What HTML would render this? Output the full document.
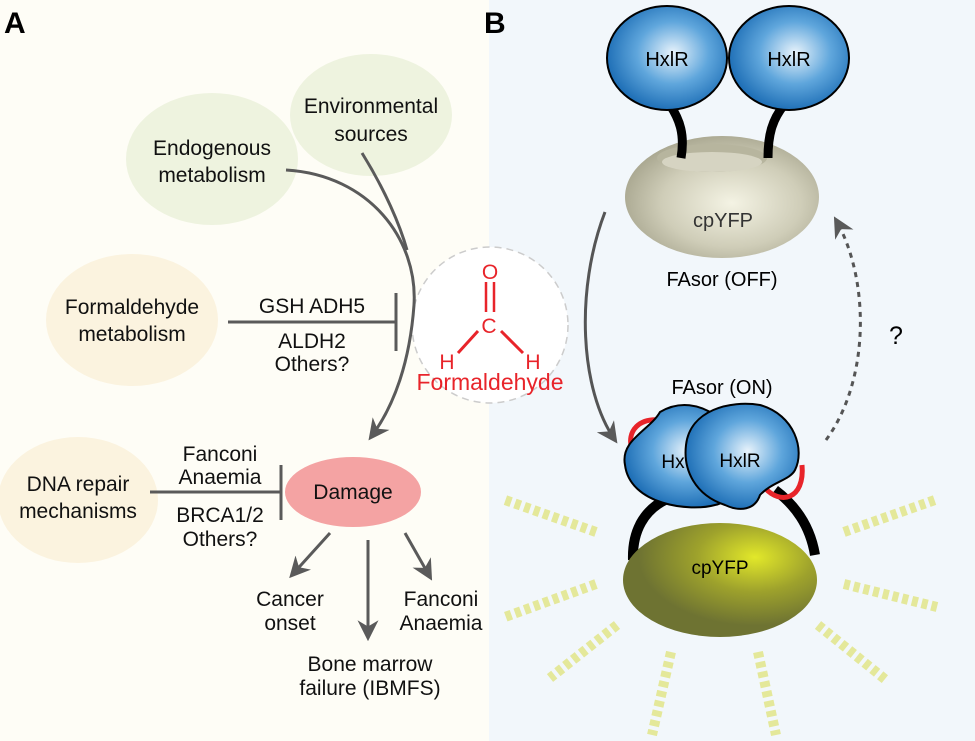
<!DOCTYPE html>
<html><head><meta charset="utf-8"><style>
body{margin:0;}
svg{display:block;font-family:"Liberation Sans",sans-serif;}
</style></head><body>
<svg width="975" height="741" viewBox="0 0 975 741" xmlns="http://www.w3.org/2000/svg">
<defs>
<radialGradient id="blue" cx="0.55" cy="0.45" r="0.6"><stop offset="0" stop-color="#e8f3fb"/><stop offset="0.5" stop-color="#5fa6dc"/><stop offset="1" stop-color="#1466b0"/></radialGradient>
<radialGradient id="grey" cx="0.55" cy="0.55" r="0.6"><stop offset="0" stop-color="#f4f3e4"/><stop offset="0.6" stop-color="#cfcdb8"/><stop offset="1" stop-color="#a5a38c"/></radialGradient>
<radialGradient id="yel" cx="0.68" cy="0.3" r="0.6"><stop offset="0" stop-color="#e2e82a"/><stop offset="0.5" stop-color="#9ea22c"/><stop offset="1" stop-color="#6e7332"/></radialGradient>
<marker id="ah" viewBox="0 0 10 10" refX="8" refY="5" markerWidth="7" markerHeight="7" orient="auto"><path d="M0,0 L10,5 L0,10 L3,5z" fill="#5a5a5a"/></marker>
</defs>
<rect x="0" y="0" width="489" height="741" fill="#fefdf6"/>
<rect x="489" y="0" width="486" height="741" fill="#f2f7fb"/>
<text x="4" y="33" font-size="30" font-weight="bold">A</text>
<text x="484" y="33" font-size="30" font-weight="bold">B</text>
<g font-size="21" text-anchor="middle" fill="#111">
<ellipse cx="212" cy="159" rx="86" ry="66" fill="#eef3df"/>
<ellipse cx="371" cy="115" rx="81" ry="61" fill="#eef3df"/>
<ellipse cx="132" cy="320" rx="86" ry="66" fill="#fbf3df"/>
<ellipse cx="78" cy="500" rx="80" ry="63" fill="#fbf3df"/>
<text x="212" y="155">Endogenous</text><text x="212" y="182">metabolism</text>
<text x="371" y="113">Environmental</text><text x="371" y="141">sources</text>
<text x="132" y="314">Formaldehyde</text><text x="132" y="341">metabolism</text>
<text x="78" y="491">DNA repair</text><text x="78" y="518">mechanisms</text>
<circle cx="490" cy="325" r="78" fill="#fff" stroke="#ccc" stroke-width="1.5" stroke-dasharray="7 5"/>
<path d="M286,170 C370,175 418,240 414,305 C410,360 395,405 371,437" fill="none" stroke="#5a5a5a" stroke-width="3" marker-end="url(#ah)"/>
<path d="M362,153 C385,190 400,225 407,250" fill="none" stroke="#5a5a5a" stroke-width="3"/>
<line x1="228" y1="322" x2="396" y2="322" stroke="#5a5a5a" stroke-width="3"/>
<line x1="396" y1="293" x2="396" y2="351" stroke="#5a5a5a" stroke-width="3"/>
<text x="312" y="313">GSH ADH5</text><text x="312" y="348">ALDH2</text><text x="312" y="371">Others?</text>
<g fill="#e8242a" stroke="#e8242a">
<text x="490" y="279" stroke="none" font-size="21">O</text>
<text x="489" y="333" stroke="none" font-size="21">C</text>
<text x="447" y="369" stroke="none" font-size="21">H</text>
<text x="533" y="369" stroke="none" font-size="21">H</text>
<line x1="486" y1="282" x2="486" y2="312" stroke-width="2.5"/><line x1="494" y1="282" x2="494" y2="312" stroke-width="2.5"/>
<line x1="478" y1="331" x2="458" y2="353" stroke-width="3"/><line x1="501" y1="331" x2="523" y2="353" stroke-width="3"/>
<text x="490" y="390" stroke="none" font-size="23">Formaldehyde</text>
</g>
<ellipse cx="353" cy="492" rx="68" ry="35" fill="#f4a3a3"/>
<text x="353" y="499">Damage</text>
<line x1="150" y1="492" x2="280" y2="492" stroke="#5a5a5a" stroke-width="3"/>
<line x1="281" y1="465" x2="281" y2="520" stroke="#5a5a5a" stroke-width="3"/>
<text x="220" y="461">Fanconi</text><text x="220" y="484">Anaemia</text>
<text x="220" y="522">BRCA1/2</text><text x="220" y="546">Others?</text>
<line x1="330" y1="533" x2="292" y2="575" stroke="#5a5a5a" stroke-width="3" marker-end="url(#ah)"/>
<line x1="368" y1="540" x2="368" y2="637" stroke="#5a5a5a" stroke-width="3" marker-end="url(#ah)"/>
<line x1="405" y1="533" x2="430" y2="577" stroke="#5a5a5a" stroke-width="3" marker-end="url(#ah)"/>
<text x="290" y="606">Cancer</text><text x="290" y="630">onset</text>
<text x="441" y="606">Fanconi</text><text x="441" y="630">Anaemia</text>
<text x="370" y="671">Bone marrow</text><text x="370" y="695">failure (IBMFS)</text>
</g>
<!-- B panel -->
<g stroke="#e4e89a" stroke-width="10" stroke-dasharray="6 4" fill="none">
<line x1="596" y1="532" x2="505" y2="500"/><line x1="596" y1="584" x2="505" y2="617"/>
<line x1="617" y1="625" x2="550" y2="678"/><line x1="671" y1="652" x2="652" y2="735"/>
<line x1="758" y1="652" x2="776" y2="735"/><line x1="818" y1="625" x2="886" y2="680"/>
<line x1="844" y1="584" x2="937" y2="607"/><line x1="844" y1="532" x2="935" y2="500"/>
</g>
<ellipse cx="722" cy="197" rx="97" ry="61" fill="url(#grey)"/>
<ellipse cx="712" cy="158" rx="55" ry="14" fill="#b7b59e"/>
<ellipse cx="712" cy="162" rx="50" ry="10" fill="#d6d4c2"/>
<path d="M670,105 C680,120 685,135 681,158" stroke="#000" stroke-width="9" fill="none"/>
<path d="M784,105 C772,120 768,135 768,158" stroke="#000" stroke-width="9" fill="none"/>
<ellipse cx="667" cy="58" rx="60" ry="52" fill="url(#blue)" stroke="#000" stroke-width="2"/>
<ellipse cx="789" cy="58" rx="60" ry="52" fill="url(#blue)" stroke="#000" stroke-width="2"/>
<text x="667" y="66" font-size="20" text-anchor="middle">HxlR</text>
<text x="789" y="66" font-size="20" text-anchor="middle">HxlR</text>
<text x="723" y="227" font-size="20" text-anchor="middle" fill="#333">cpYFP</text>
<text x="722" y="286" font-size="20" text-anchor="middle">FAsor (OFF)</text>
<text x="722" y="394" font-size="20" text-anchor="middle">FAsor (ON)</text>
<text x="896" y="344" font-size="25" text-anchor="middle">?</text>
<path d="M605,212 C575,290 580,390 615,440" stroke="#555" stroke-width="3" fill="none" marker-end="url(#ah)"/>
<path d="M826,440 C870,380 870,280 836,220" stroke="#555" stroke-width="3" stroke-dasharray="5 5" fill="none" marker-end="url(#ah)"/>
<path d="M633,560 C632,530 645,510 665,500" stroke="#000" stroke-width="10" fill="none"/>
<path d="M815,555 C810,525 795,505 775,490" stroke="#000" stroke-width="10" fill="none"/>
<path d="M632,450 C626,430 640,418 660,420" stroke="#e8242a" stroke-width="5" fill="none"/>
<path d="M765,488 C780,505 805,500 802,465" stroke="#e8242a" stroke-width="5" fill="none"/>
<path d="M625,465 C620,440 650,430 660,412 C680,400 700,405 715,415 C745,420 745,500 715,505 C690,512 630,505 625,465z" fill="url(#blue)" stroke="#000" stroke-width="2"/>
<text x="673" y="468" font-size="19" text-anchor="middle">Hx</text>
<path d="M686,445 C690,410 730,400 760,405 C795,415 805,450 795,470 C790,480 772,482 760,495 C755,510 740,512 725,505 C695,495 683,470 686,445z" fill="url(#blue)" stroke="#000" stroke-width="2"/>
<text x="740" y="467" font-size="19" text-anchor="middle">HxlR</text>
<ellipse cx="720" cy="580" rx="97" ry="57" fill="url(#yel)"/>
<text x="720" y="574" font-size="19" text-anchor="middle">cpYFP</text>
</svg>
</body></html>
